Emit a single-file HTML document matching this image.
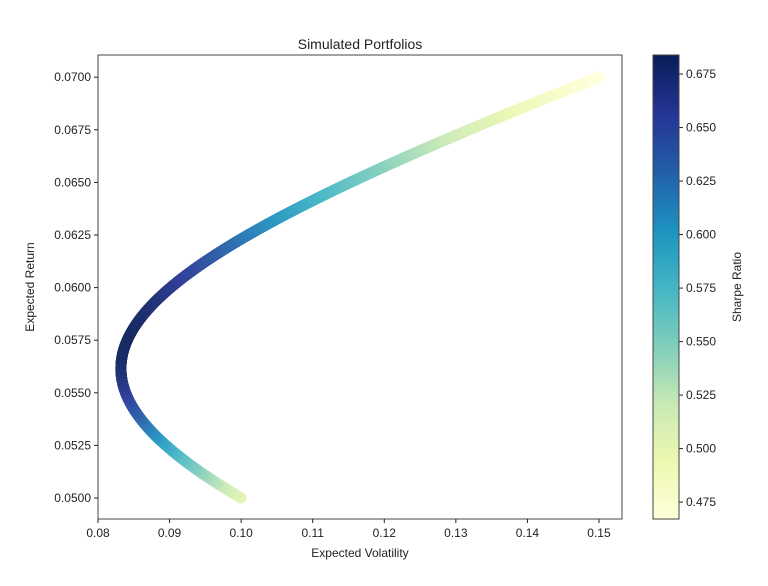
<!DOCTYPE html>
<html><head><meta charset="utf-8"><style>
body{margin:0;background:#fff;}
svg text{font-family:"Liberation Sans","DejaVu Sans",sans-serif;fill:#222;}
</style></head><body>
<svg id="s" width="768" height="581" viewBox="0 0 768 581" xmlns="http://www.w3.org/2000/svg">
<defs>
<linearGradient id="cb" x1="0" y1="1" x2="0" y2="0">
<stop offset="0" stop-color="#ffffd9"/><stop offset="0.125" stop-color="#edf8b1"/><stop offset="0.25" stop-color="#c7e9b4"/><stop offset="0.375" stop-color="#7fcdbb"/><stop offset="0.5" stop-color="#41b6c4"/><stop offset="0.625" stop-color="#1d91c0"/><stop offset="0.75" stop-color="#225ea8"/><stop offset="0.875" stop-color="#253494"/><stop offset="1" stop-color="#081d58"/>
</linearGradient>
<clipPath id="c"><rect x="98" y="55" width="524" height="464"/></clipPath>
</defs>
<text x="360" y="49" font-size="14" text-anchor="middle">Simulated Portfolios</text>
<g id="pts" clip-path="url(#c)" opacity="0.93"></g>
<rect x="98" y="55" width="524" height="464" fill="none" stroke="#444" stroke-width="1"/>
<g id="ax" font-size="12"></g>
<text x="360" y="557" font-size="12" text-anchor="middle">Expected Volatility</text>
<text transform="translate(34,287) rotate(-90)" font-size="12" text-anchor="middle">Expected Return</text>
<rect x="653" y="55" width="26" height="464" fill="url(#cb)" stroke="#444" stroke-width="1"/>
<text transform="translate(741,287) rotate(-90)" font-size="12" text-anchor="middle">Sharpe Ratio</text>
</svg>
<script>
var NS="http://www.w3.org/2000/svg";
function el(t,a,p){var e=document.createElementNS(NS,t);for(var k in a)e.setAttribute(k,a[k]);p.appendChild(e);return e;}
var ax=document.getElementById("ax"),pts=document.getElementById("pts");
function X(v){return 98+(v-0.08)/0.01*71.57;}
function Y(r){return 498-(r-0.05)/0.0025*52.6;}
for(var i=0;i<=7;i++){var v=0.08+i*0.01,x=X(v);el("line",{x1:x,x2:x,y1:519,y2:523,stroke:"#222"},ax);var t=el("text",{x:x,y:537,"text-anchor":"middle"},ax);t.textContent=v.toFixed(2);}
for(var i=0;i<=8;i++){var r=0.05+i*0.0025,y=Y(r);el("line",{x1:94,x2:98,y1:y,y2:y,stroke:"#222"},ax);var t=el("text",{x:91,y:y+4,"text-anchor":"end"},ax);t.textContent=r.toFixed(4);}
var smin=0.4671,smax=0.6839;
function CY(s){return 519-(s-smin)/(smax-smin)*464;}
for(var i=0;i<=8;i++){var s=0.475+i*0.025,y=CY(s);el("line",{x1:679,x2:683,y1:y,y2:y,stroke:"#222"},ax);var t=el("text",{x:686,y:y+4},ax);t.textContent=s.toFixed(3);}
var stops=[[255,255,217],[237,248,177],[199,233,180],[127,205,187],[65,182,196],[29,145,192],[34,94,168],[37,52,148],[8,29,88]];
function col(s){var f=(s-smin)/(smax-smin);f=Math.max(0,Math.min(1,f))*8;var i=Math.min(7,Math.floor(f)),u=f-i,a=stops[i],b=stops[i+1];return "rgb("+[0,1,2].map(function(k){return Math.round(a[k]+(b[k]-a[k])*u)}).join(",")+")";}
var N=1500,arr=[];
for(var i=0;i<=N;i++){var w=i/N,r=0.05+0.02*w,v=Math.sqrt((1-w)*(1-w)*0.01+w*w*0.0225);arr.push([v,r,r/v]);}
arr.forEach(function(p){el("circle",{cx:X(p[0]),cy:Y(p[1]),r:5.5,fill:col(p[2])},pts);});
</script>
</body></html>
